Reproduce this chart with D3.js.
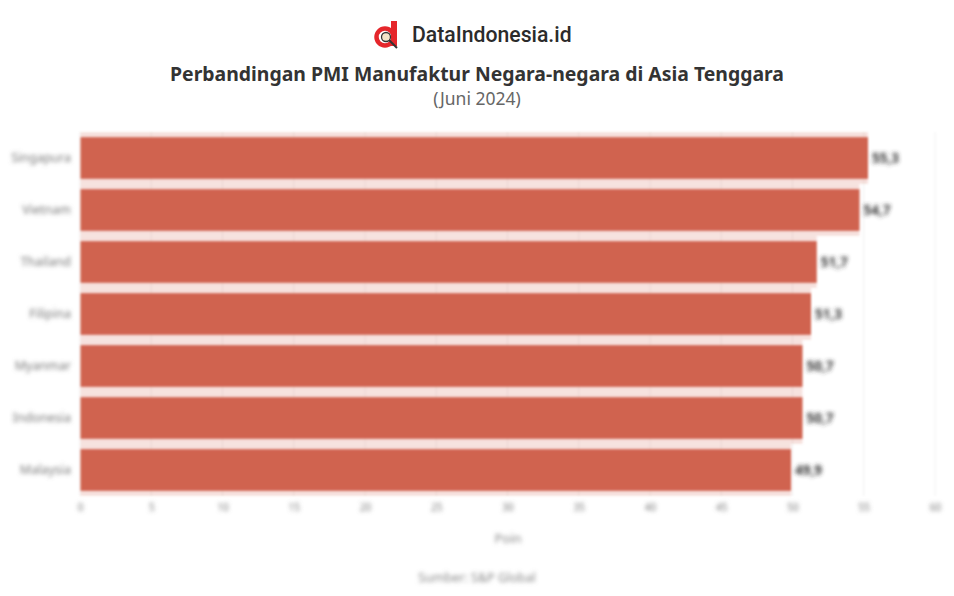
<!DOCTYPE html>
<html>
<head>
<meta charset="utf-8">
<script src="https://cdn.jsdelivr.net/npm/d3@7"></script>
<style>
html,body{margin:0;padding:0;background:#fff;}
svg{display:block;font-family:"Noto Sans",sans-serif;}
</style>
</head>
<body>
<svg id="chart" width="954" height="596"></svg>
<script>
var countries = ["Singapura","Vietnam","Thailand","Filipina","Myanmar","Indonesia","Malaysia"];
var pmiValues = [55.3,54.7,51.7,51.3,50.7,50.7,49.9];
var pmiLabels = ["55,3","54,7","51,7","51,3","50,7","50,7","49,9"];
var xTicks = [0,5,10,15,20,25,30,35,40,45,50,55,60];

var svg = d3.select("#chart");

// reference is soft everywhere below the title
var defs = svg.append("defs");
defs.append("filter").attr("id","soft").attr("filterUnits","userSpaceOnUse")
	.attr("x",0).attr("y",0).attr("width",954).attr("height",596)
	.append("feGaussianBlur").attr("stdDeviation",2);
defs.append("filter").attr("id","softBar").attr("filterUnits","userSpaceOnUse")
	.attr("x",0).attr("y",0).attr("width",954).attr("height",596)
	.append("feGaussianBlur").attr("stdDeviation",1.3);

var x = d3.scaleLinear().domain([0,60]).range([80,935]);
var y = d3.scaleBand().domain(countries).range([132,496]).paddingInner(0.2).paddingOuter(0.1);

// grid
var grid = svg.append("g").attr("filter","url(#softBar)");
grid.selectAll("line").data(xTicks).enter().append("line")
	.attr("x1",function(d){return x(d);})
	.attr("x2",function(d){return x(d);})
	.attr("y1",132).attr("y2",496)
	.attr("stroke","#f0f0f0").attr("stroke-width",1);

// bars, pale band behind each one gives the pink gaps
var bars = svg.append("g").attr("filter","url(#softBar)");
bars.selectAll("rect.halo").data(countries).enter().append("rect")
	.attr("class","halo")
	.attr("x",x(0)+0.5)
	.attr("y",function(d){return y(d)-5;})
	.attr("width",function(d,i){return x(pmiValues[i])-x(0)-0.5;})
	.attr("height",y.bandwidth()+10)
	.attr("fill","#d0634f").attr("fill-opacity",0.2);
bars.selectAll("rect.bar").data(countries).enter().append("rect")
	.attr("class","bar")
	.attr("x",x(0)+0.5)
	.attr("y",function(d){return y(d);})
	.attr("width",function(d,i){return x(pmiValues[i])-x(0)-0.5;})
	.attr("height",y.bandwidth())
	.attr("fill","#d0634f");

var soft = svg.append("g").attr("filter","url(#soft)");

// value labels
soft.selectAll("text.val").data(countries).enter().append("text")
	.attr("class","val")
	.attr("x",function(d,i){return x(pmiValues[i])+4;})
	.attr("y",function(d){return y(d)+y.bandwidth()/2;})
	.attr("dy","0.35em")
	.attr("font-size",13.5).attr("font-weight",700).attr("fill","#333")
	.text(function(d,i){return pmiLabels[i];});

// axes
var xAxis = soft.append("g").attr("transform","translate(0,496)")
	.call(d3.axisBottom(x).tickValues(xTicks).tickSize(0).tickPadding(8));
var yAxis = soft.append("g").attr("transform","translate(80,0)")
	.call(d3.axisLeft(y).tickSize(0).tickPadding(9));
xAxis.select(".domain").remove();
yAxis.select(".domain").remove();
xAxis.selectAll("text").attr("font-size",10).attr("fill","#777").attr("font-family","Noto Sans");
yAxis.selectAll("text").attr("font-size",12.5).attr("fill","#777").attr("font-family","Noto Sans");

soft.append("text").attr("x",508).attr("y",543).attr("text-anchor","middle")
	.attr("font-size",13).attr("fill","#888").text("Poin");
soft.append("text").attr("x",477).attr("y",582).attr("text-anchor","middle")
	.attr("font-size",12.5).attr("fill","#888").text("Sumber: S&P Global");

// titles
svg.append("text").attr("x",477).attr("y",81).attr("text-anchor","middle")
	.attr("font-size",19.4).attr("font-weight",700).attr("fill","#333")
	.text("Perbandingan PMI Manufaktur Negara-negara di Asia Tenggara");
svg.append("text").attr("x",477).attr("y",105).attr("text-anchor","middle")
	.attr("font-size",17.5).attr("fill","#666").text("(Juni 2024)");

// logo
var logo = svg.append("g");
logo.append("circle").attr("cx",385).attr("cy",37).attr("r",8.5).attr("fill","#fff")
	.attr("stroke","#e5262b").attr("stroke-width",4.5);
logo.append("rect").attr("x",391).attr("y",21).attr("width",6).attr("height",25).attr("fill","#e5262b");
logo.append("circle").attr("cx",386).attr("cy",37).attr("r",4.5).attr("fill","#f4e3c8")
	.attr("stroke","#333").attr("stroke-width",1.3);
logo.append("line").attr("x1",389).attr("y1",40).attr("x2",397).attr("y2",48)
	.attr("stroke","#333").attr("stroke-width",2);
svg.append("text").attr("x",412).attr("y",42).attr("font-family","Roboto").attr("font-size",21.2).attr("font-weight",500)
	.attr("fill","#2b2b2b").text("DataIndonesia.id");
</script>
</body>
</html>
